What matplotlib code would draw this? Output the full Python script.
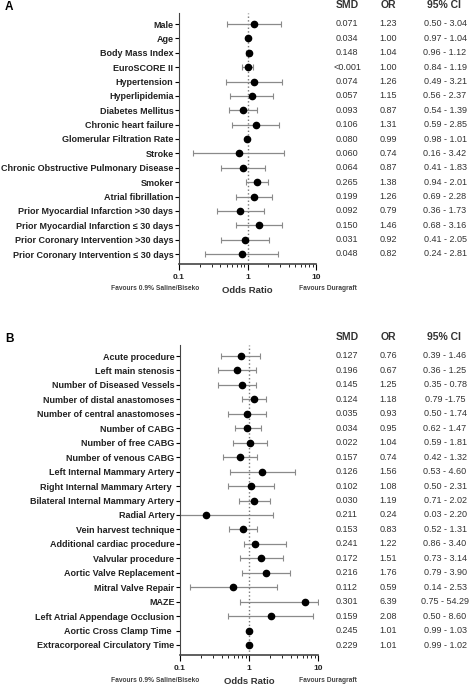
import matplotlib.pyplot as plt
import matplotlib.transforms as mtransforms
from matplotlib.ticker import FixedLocator, LogLocator, NullFormatter

plt.rcParams['font.family'] = ['Liberation Sans', 'DejaVu Sans']

# ---- panel A data ----
labels_a = ["Male", "Age", "Body Mass Index", "EuroSCORE II", "Hypertension", "Hyperlipidemia",
            "Diabetes Mellitus", "Chronic heart failure", "Glomerular Filtration Rate", "Stroke",
            "Chronic Obstructive Pulmonary Disease", "Smoker", "Atrial fibrillation",
            "Prior Myocardial Infarction >30 days", "Prior Myocardial Infarction \u2264 30 days",
            "Prior Coronary Intervention >30 days", "Prior Coronary Intervention \u2264 30 days"]
or_a = [1.23, 1.00, 1.04, 1.00, 1.26, 1.15, 0.87, 1.31, 0.99, 0.74, 0.87, 1.38, 1.26, 0.79, 1.46, 0.92, 0.82]
lo_a = [0.50, 0.97, 0.96, 0.84, 0.49, 0.56, 0.54, 0.59, 0.98, 0.16, 0.41, 0.94, 0.69, 0.36, 0.68, 0.41, 0.24]
hi_a = [3.04, 1.04, 1.12, 1.19, 3.21, 2.37, 1.39, 2.85, 1.01, 3.42, 1.83, 2.01, 2.28, 1.73, 3.16, 2.05, 2.81]
smd_a = ["0.071", "0.034", "0.148", "<0.001", "0.074", "0.057", "0.093", "0.106", "0.080", "0.060",
         "0.064", "0.265", "0.199", "0.092", "0.150", "0.031", "0.048"]
ci_a = ["0.50 - 3.04", "0.97 - 1.04", "0.96 - 1.12", "0.84 - 1.19", "0.49 - 3.21", "0.56 - 2.37",
        "0.54 - 1.39", "0.59 - 2.85", "0.98 - 1.01", "0.16 - 3.42", "0.41 - 1.83", "0.94 - 2.01",
        "0.69 - 2.28", "0.36 - 1.73", "0.68 - 3.16", "0.41 - 2.05", "0.24 - 2.81"]

# ---- panel B data ----
labels_b = ["Acute procedure", "Left main stenosis", "Number of Diseased Vessels",
            "Number of distal anastomoses", "Number of central anastomoses", "Number of CABG",
            "Number of free CABG", "Number of venous CABG", "Left Internal Mammary Artery",
            "Right Internal Mammary Artery ", "Bilateral Internal Mammary Artery", "Radial Artery",
            "Vein harvest technique", "Additional cardiac procedure", "Valvular procedure",
            "Aortic Valve Replacement", "Mitral Valve Repair", "MAZE",
            "Left Atrial Appendage Occlusion", "Aortic Cross Clamp Time ",
            "Extracorporeal Circulatory Time"]
or_text_b = ["0.76", "0.67", "1.25", "1.18", "0.93", "0.95", "1.04", "0.74", "1.56", "1.08", "1.19",
             "0.24", "0.83", "1.22", "1.51", "1.76", "0.59", "6.39", "2.08", "1.01", "1.01"]
# plotted values as drawn in the figure
or_b = [0.76, 0.67, 0.78, 1.18, 0.93, 0.95, 1.04, 0.74, 1.56, 1.08, 1.19,
        0.24, 0.83, 1.22, 1.51, 1.76, 0.59, 6.39, 2.08, 1.01, 1.01]
lo_b = [0.39, 0.36, 0.35, 0.79, 0.50, 0.62, 0.59, 0.42, 0.53, 0.50, 0.71,
        0.03, 0.52, 0.86, 0.73, 0.79, 0.14, 0.75, 0.50, 0.99, 0.99]
hi_b = [1.46, 1.25, 1.25, 1.75, 1.74, 1.47, 1.81, 1.32, 4.60, 2.31, 2.02,
        2.20, 1.31, 3.40, 3.14, 3.90, 2.53, 10.0, 8.60, 1.03, 1.02]
smd_b = ["0.127", "0.196", "0.145", "0.124", "0.035", "0.034", "0.022", "0.157", "0.126", "0.102",
         "0.030", "0.211", "0.153", "0.241", "0.172", "0.216", "0.112", "0.301", "0.159", "0.245", "0.229"]
ci_b = ["0.39 - 1.46", "0.36 - 1.25", "0.35 - 0.78", "0.79 -1.75", "0.50 - 1.74", "0.62 - 1.47",
        "0.59 - 1.81", "0.42 - 1.32", "0.53 - 4.60", "0.50 - 2.31", "0.71 - 2.02", "0.03 - 2.20",
        "0.52 - 1.31", "0.86 - 3.40", "0.73 - 3.14", "0.79 - 3.90", "0.14 - 2.53", "0.75 - 54.29",
        "0.50 - 8.60", "0.99 - 1.03", "0.99 - 1.02"]

W, H = 474, 688
fig = plt.figure(figsize=(W / 100, H / 100), dpi=100)


def panel(x0, x1, ytop, ybot, rowtop, rowbot, labels, ors, los, his, smd, ortxt, ci, letter, head_y):
    ax = fig.add_axes([x0 / W, 1 - ybot / H, (x1 - x0) / W, (ybot - ytop) / H])
    n = len(labels)
    step = (rowbot - rowtop) / (n - 1)
    ys = list(range(n))
    ax.set_xscale('log')
    ax.set_xlim(0.1, 10)
    ax.set_ylim(n - 1 + (ybot - rowbot) / step, -(rowtop - ytop) / step)
    ax.axvline(1, color='#777777', ls=':', lw=1)
    err = [[o - l for o, l in zip(ors, los)], [h - o for o, h in zip(ors, his)]]
    ax.errorbar(ors, ys, xerr=err, fmt='o', color='black', ms=4.5, ecolor='#8a8a8a',
                elinewidth=0.9, capsize=2, capthick=0.8)
    for s in ['top', 'right']:
        ax.spines[s].set_visible(False)
    ax.spines['left'].set_color('#444444')
    ax.spines['bottom'].set_color('#444444')
    ax.spines['bottom'].set_linewidth(1.2)
    ax.set_yticks(ys)
    ax.set_yticklabels(labels, fontsize=6.5, fontweight='bold', color='#222222')
    ax.tick_params(axis='y', length=3, pad=1)
    ax.xaxis.set_major_locator(FixedLocator([0.1, 1, 10]))
    ax.set_xticklabels(["0.1", "1", "10"], fontsize=6, fontweight='bold', color='#222222')
    ax.xaxis.set_minor_locator(LogLocator(subs=range(2, 10)))
    ax.xaxis.set_minor_formatter(NullFormatter())
    ax.tick_params(axis='x', which='major', length=4)
    ax.tick_params(axis='x', which='minor', length=2)
    trans = mtransforms.blended_transform_factory(fig.transFigure, ax.transData)
    for i in range(n):
        ax.text(347 / W, i, smd[i], transform=trans, ha='center', va='center', fontsize=6.5, color='#333333', clip_on=False)
        ax.text(388 / W, i, ortxt[i], transform=trans, ha='center', va='center', fontsize=6.5, color='#333333', clip_on=False)
        ax.text(445 / W, i, ci[i], transform=trans, ha='center', va='center', fontsize=6.5, color='#333333', clip_on=False)
    for x, t in [(347, "SMD"), (388, "OR"), (444, "95% CI")]:
        fig.text(x / W, 1 - head_y / H, t, ha='center', va='center', fontsize=7.5, fontweight='bold', color='#333333')
    fig.text(5 / W, 1 - (head_y + 2) / H, letter, ha='left', va='center', fontsize=8.5, fontweight='bold')
    lab_y = ybot + 25
    fig.text(155 / W, 1 - lab_y / H, "Favours 0.9% Saline/Biseko", ha='center', va='center', fontsize=4.8, fontweight='bold', color='#444444')
    fig.text((x0 + x1) / 2 / W, 1 - (lab_y + 1) / H, "Odds Ratio", ha='center', va='center', fontsize=6.8, fontweight='bold', color='#333333')
    fig.text(328 / W, 1 - lab_y / H, "Favours Duragraft", ha='center', va='center', fontsize=4.8, fontweight='bold', color='#444444')
    return ax


panel(179, 316, 13, 264, 24, 254, labels_a, or_a, lo_a, hi_a, smd_a, [f"{v:.2f}" for v in or_a], ci_a, "A", 5)
panel(180, 318, 345, 655, 356, 645, labels_b, or_b, lo_b, hi_b, smd_b, or_text_b, ci_b, "B", 337)

fig.savefig("out.png", dpi=100)
